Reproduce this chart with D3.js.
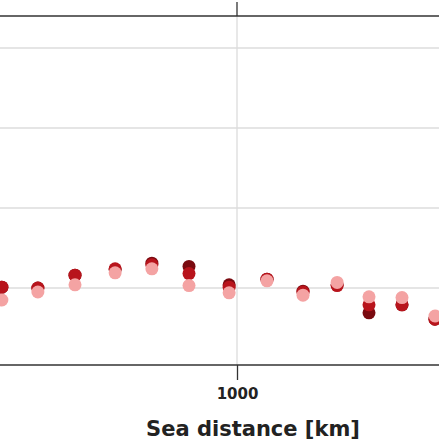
<!DOCTYPE html><html><head><script src="https://cdn.jsdelivr.net/npm/d3@7"></script>
<style>body{margin:0;background:#fff}</style></head><body><svg width="439" height="439"></svg><script>
const distances=[373,469,568,675,773,872,979,1080,1176,1267,1352,1440,1528];
const darkSeries=[0.01,0.0,0.16,0.23,0.31,0.27,0.04,0.11,-0.04,0.04,-0.31,-0.21,-0.39];
const midSeries=[0.01,0.0,0.16,0.24,0.29,0.18,0.01,0.11,-0.05,0.03,-0.21,-0.21,-0.39];
const lightSeries=[-0.15,-0.05,0.04,0.19,0.24,0.03,-0.06,0.09,-0.09,0.07,-0.11,-0.12,-0.35];
const xTicks=[1000];
const yGrid=[0,1,2,3];
const colors=["#7a0a10","#b8141c","#f4a3a3"];
const svg=d3.select("svg");
const x=d3.scaleLinear().domain([1000,2000]).range([237,612]);
const y=d3.scaleLinear().domain([0,1]).range([288,208]);
svg.selectAll(".hg").data(yGrid).join("line").attr("x1",0).attr("x2",439).attr("y1",d=>y(d)).attr("y2",d=>y(d)).attr("stroke","#dcdcdc").attr("stroke-width",1.3);
svg.selectAll(".vg").data(xTicks).join("line").attr("x1",d=>x(d)).attr("x2",d=>x(d)).attr("y1",16).attr("y2",365).attr("stroke","#dcdcdc").attr("stroke-width",1.3);
svg.append("line").attr("x1",0).attr("x2",439).attr("y1",16).attr("y2",16).attr("stroke","#333").attr("stroke-width",1.3);
svg.selectAll(".tt").data(xTicks).join("line").attr("x1",d=>x(d)).attr("x2",d=>x(d)).attr("y1",2).attr("y2",16).attr("stroke","#333").attr("stroke-width",1.3);
const ax=svg.append("g").attr("transform","translate(0,365)").call(d3.axisBottom(x).tickValues(xTicks).tickSize(15).tickPadding(8).tickFormat(d3.format("d")));
ax.select(".domain").remove();
ax.append("line").attr("x1",0).attr("x2",439).attr("stroke","#333").attr("stroke-width",1.3);
ax.selectAll(".tick line").attr("stroke","#333").attr("stroke-width",1.3);
ax.selectAll("text").attr("font-family","DejaVu Sans").attr("font-weight","bold").attr("font-size",15).attr("fill","#222");
[darkSeries,midSeries,lightSeries].forEach((s,i)=>{
 svg.append("g").selectAll("circle").data(s).join("circle").attr("cx",(d,j)=>x(distances[j])).attr("cy",d=>y(d)).attr("r",6.5).attr("fill",colors[i]);
});
svg.append("text").attr("x",253).attr("y",436).attr("text-anchor","middle").attr("font-family","DejaVu Sans").attr("font-weight","bold").attr("font-size",21).attr("fill","#222").text("Sea distance [km]");
</script></body></html>
